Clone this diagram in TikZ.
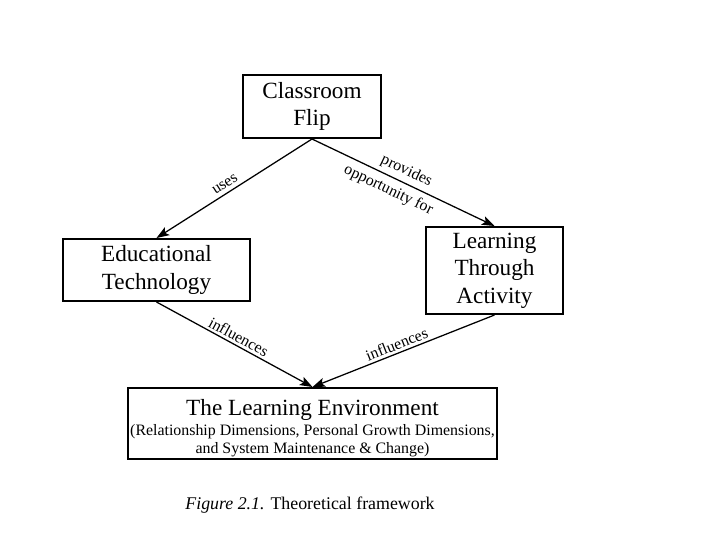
\documentclass[tikz,border=0pt]{standalone}
\usepackage{fontspec}
\setmainfont{Liberation Serif}
\usetikzlibrary{arrows.meta}
\begin{document}
\begin{tikzpicture}[x=0.025cm,y=-0.025cm,
  box/.style={draw,line width=1.4pt,inner sep=0pt,align=center,
    font=\fontsize{16.5}{19.5}\selectfont},
  conn/.style={line width=0.9pt,-{Stealth[length=9pt,width=6.5pt,inset=2pt]}},
  lbl/.style={font=\fontsize{11.3}{13}\selectfont,sloped,inner sep=1pt},
  sub/.style={anchor=base,inner sep=0pt,font=\fontsize{11.3}{13.5}\selectfont}]
\useasboundingbox (0,0) rectangle (720,540);
\node[box,minimum width=3.45cm,minimum height=1.575cm] (cf) at (312,106.5) {Classroom\\Flip};
\node[box,minimum width=4.675cm,minimum height=1.55cm] (et) at (156.5,270) {Educational\\Technology};
\node[box,minimum width=3.425cm,minimum height=2.175cm] (lta) at (494.5,270.5) {Learning\\Through\\Activity};
\node[box,minimum width=9.225cm,minimum height=1.775cm] (env) at (312.5,423.5) {};
\node[anchor=base,inner sep=0pt,font=\fontsize{16.5}{19}\selectfont] (envt) at (312.5,415) {The Learning Environment};
\node[sub] (envs1) at (312.5,435) {(Relationship Dimensions, Personal Growth Dimensions,};
\node[sub] (envs2) at (312.5,453) {and System Maintenance \& Change)};
\node[font=\fontsize{12.7}{15}\selectfont] (cap) at (310,505) {\textit{Figure 2.1.} Theoretical framework};

\draw[conn] (cf.south) -- (et.north);
\draw[conn] (cf.south) -- (lta.north);
\draw[conn] (et.south) -- (env.north);
\draw[conn] (lta.south) -- (env.north);

\path (et.north) -- (cf.south) node[lbl,pos=0.47,above=2pt] (l1) {uses};
\path (cf.south) -- (lta.north) node[lbl,pos=0.49,above=2pt] (l2) {provides};
\path (cf.south) -- (lta.north) node[lbl,pos=0.45,below=3pt] (l3) {opportunity for};
\path (et.south) -- (env.north) node[lbl,pos=0.5,above=1pt] (l4) {influences};
\path (env.north) -- (lta.south) node[lbl,pos=0.48,above=1pt] (l5) {influences};
\end{tikzpicture}
\end{document}
